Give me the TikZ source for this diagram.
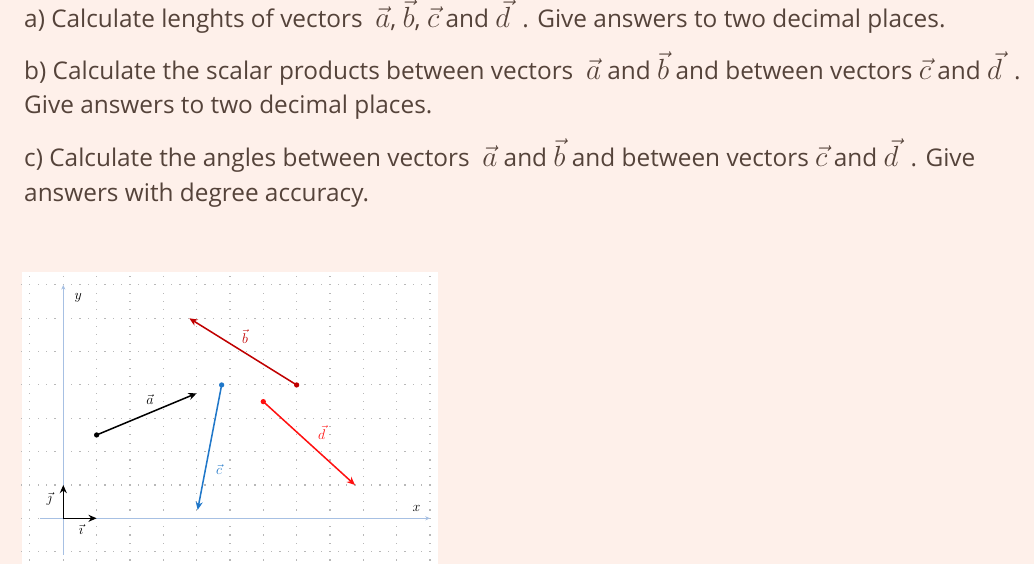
\documentclass[tikz,border=0pt]{standalone}
\usepackage{fontspec}
\setmainfont{Open Sans}
\usetikzlibrary{arrows.meta}
\definecolor{pagebg}{HTML}{FEF0EA}
\definecolor{qtext}{HTML}{55433A}
\definecolor{axisblue}{HTML}{A7C0E3}
\definecolor{bred}{HTML}{C00000}
\definecolor{cblue}{HTML}{1F77C9}
\definecolor{dred}{HTML}{FF1010}
\definecolor{griddot}{HTML}{B8B8B8}

% larger vector letters in the questions
\newcommand{\qvec}[1]{{\fontsize{23}{23}\selectfont$\vec{#1}$}}

\tikzset{
  question/.style={anchor=base west, inner sep=0pt, text=qtext, font=\fontsize{20.8}{24}\selectfont},
  vecline/.style={line width=1.3pt, -{Stealth[length=7pt,width=6pt]}},
  tailpt/.style={circle, fill, inner sep=0pt, minimum size=4.5pt},
  veclabel/.style={font=\fontsize{12.5}{14}\selectfont},
  axis/.style={axisblue, line width=0.9pt},
}

\begin{document}
\begin{tikzpicture}[x=0.03cm, y=-0.03cm]
            % page and panel (pixel coordinates)
            \useasboundingbox (0,0) rectangle (1034,564);
            \fill[pagebg] (0,0) rectangle (1034,564);
            \fill[white] (22,272) rectangle (438,564);

            % questions
            \node[question] (qa) at (24,28) {a) Calculate lenghts of vectors~ \qvec{a}, \qvec{b}, \qvec{c} and \qvec{d}\enspace. Give answers to two decimal places.};
            \node[question] (qb1) at (24,80) {b) Calculate the scalar products between vectors~ \qvec{a} and \qvec{b} and between vectors \qvec{c} and \qvec{d}\enspace .};
            \node[question] (qb2) at (24,114) {Give answers to two decimal places.};
            \node[question] (qc1) at (24,167) {c) Calculate the angles between vectors~ \qvec{a} and \qvec{b} and between vectors \qvec{c} and \qvec{d}\enspace . Give};
            \node[question] (qc2) at (24,201) {answers with degree accuracy.};

            % coordinate grid, one unit per cm
            \begin{scope}[shift={(63.3,518.3)}, x=1cm, y=1cm]
                \foreach \gx in {-1,...,11}
                    \foreach \gy in {-1.25,-1,...,7.25}
                        \fill[griddot] (\gx-0.016,\gy-0.016) rectangle (\gx+0.016,\gy+0.016);
                \foreach \gy in {-1,...,7}
                    \foreach \gx in {-1.25,-1,...,11}
                        \fill[griddot] (\gx-0.016,\gy-0.016) rectangle (\gx+0.016,\gy+0.016);

                % axes
                \coordinate (xstart) at (-0.7,0);
                \coordinate (xend) at (11,0);
                \coordinate (ystart) at (0,-1.1);
                \coordinate (yend) at (0,7);
                \draw[axis, -{Stealth[length=4pt,width=3.5pt]}] (xstart) -- (xend);
                \draw[axis, -{Stealth[length=4pt,width=3.5pt]}] (ystart) -- (yend);
                \node[veclabel] (xlab) at (10.6,0.3) {$x$};
                \node[veclabel] (ylab) at (0.45,6.6) {$y$};

                % unit vectors
                \coordinate (o) at (0,0);
                \coordinate (ihead) at (1,0);
                \coordinate (jhead) at (0,1);
                \draw[vecline] (o) -- (ihead);
                \draw[vecline] (o) -- (jhead);
                \node[veclabel] (ilab) at (0.53,-0.35) {$\vec{\imath}$};
                \node[veclabel] (jlab) at (-0.42,0.57) {$\vec{\jmath}$};

                % vector a
                \node[tailpt, black] (atail) at (1,2.5) {};
                \coordinate (ahead) at (4,3.75);
                \draw[vecline, black] (atail.center) -- (ahead);
                \node[veclabel] (alab) at (2.6,3.55) {$\vec{a}$};

                % vector b
                \node[tailpt, bred] (btail) at (7,4) {};
                \coordinate (bhead) at (3.78,6);
                \draw[vecline, bred] (btail.center) -- (bhead);
                \node[veclabel, bred] (blab) at (5.45,5.45) {$\vec{b}$};

                % vector c
                \node[tailpt, cblue] (ctail) at (4.75,4) {};
                \coordinate (chead) at (4.03,0.25);
                \draw[vecline, cblue] (ctail.center) -- (chead);
                \node[veclabel, cblue] (clab) at (4.67,1.47) {$\vec{c}$};

                % vector d
                \node[tailpt, dred] (dtail) at (6,3.5) {};
                \coordinate (dhead) at (8.75,1);
                \draw[vecline, dred] (dtail.center) -- (dhead);
                \node[veclabel, dred] (dlab) at (7.75,2.57) {$\vec{d}$};
            \end{scope}
        \end{tikzpicture}
\end{document}
